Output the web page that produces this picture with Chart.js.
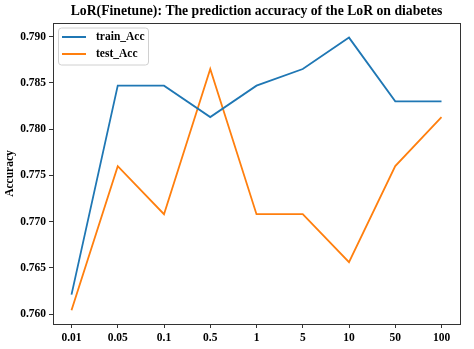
<!DOCTYPE html>
<html>
<head>
<meta charset="utf-8">
<script src="https://cdn.jsdelivr.net/npm/chart.js@4.4.0/dist/chart.umd.min.js"></script>
<style>
  html, body { margin: 0; padding: 0; background: #fff; }
  #wrap { width: 474px; height: 349px; }
</style>
</head>
<body>
<div id="wrap"><canvas id="accChart" width="474" height="349"></canvas></div>
<script>
// ---- data ----
const cValues = ["0.01", "0.05", "0.1", "0.5", "1", "5", "10", "50", "100"];
const trainAcc = [0.7621, 0.7847, 0.7847, 0.7813, 0.7847, 0.7865, 0.7899, 0.7830, 0.7830];
const testAcc  = [0.7604, 0.7760, 0.7708, 0.7865, 0.7708, 0.7708, 0.7656, 0.7760, 0.7813];
const yTicks = [0.760, 0.765, 0.770, 0.775, 0.780, 0.785, 0.790];

const titleText = "LoR(Finetune): The prediction accuracy of the LoR on diabetes";
const serif = "'Liberation Serif', 'Times New Roman', serif";
const BLUE = "#1f77b4", ORANGE = "#ff7f0e";

const toPoints = arr => arr.map((v, i) => ({ x: i, y: v }));

// frame, title, y label and the legend box
const decorations = {
  id: "decorations",
  afterDraw(chart) {
    const { ctx, chartArea: a } = chart;
    ctx.save();
    ctx.strokeStyle = "#333";
    ctx.lineWidth = 1;
    ctx.strokeRect(Math.round(a.left) + 0.5, Math.round(a.top) + 0.5,
                   Math.round(a.right - a.left), Math.round(a.bottom - a.top));

    ctx.fillStyle = "#000";
    ctx.font = "bold 13.7px " + serif;
    ctx.textAlign = "center";
    ctx.textBaseline = "middle";
    ctx.fillText(titleText, (a.left + a.right) / 2, 11);

    ctx.save();
    ctx.translate(10, (a.top + a.bottom) / 2);
    ctx.rotate(-Math.PI / 2);
    ctx.font = "bold 11.5px " + serif;
    ctx.fillText("Accuracy", 0, 0);
    ctx.restore();

    // legend
    const bx = a.left + 5, by = a.top + 4.5, bw = 90, bh = 37;
    ctx.beginPath();
    ctx.roundRect(bx + 0.5, by + 0.5, bw, bh, 3);
    ctx.fillStyle = "rgba(255,255,255,0.8)";
    ctx.fill();
    ctx.strokeStyle = "#d0d0d0";
    ctx.stroke();

    const items = [["train_Acc", BLUE], ["test_Acc", ORANGE]];
    items.forEach(([label, color], i) => {
      const y = by + 9.5 + i * 17;
      ctx.strokeStyle = color;
      ctx.lineWidth = 2;
      ctx.beginPath();
      ctx.moveTo(bx + 4, y);
      ctx.lineTo(bx + 28, y);
      ctx.stroke();
      ctx.fillStyle = "#000";
      ctx.font = "bold 11.5px " + serif;
      ctx.textAlign = "left";
      ctx.fillText(label, bx + 38, y);
    });
    ctx.restore();
  }
};

new Chart(document.getElementById("accChart"), {
  type: "line",
  data: {
    datasets: [
      { label: "train_Acc", data: toPoints(trainAcc), borderColor: BLUE, borderWidth: 1.8, pointRadius: 0, tension: 0 },
      { label: "test_Acc", data: toPoints(testAcc), borderColor: ORANGE, borderWidth: 1.8, pointRadius: 0, tension: 0 }
    ]
  },
  options: {
    responsive: false,
    animation: false,
    layout: { padding: { left: 0, right: 14, top: 23, bottom: 0 } },
    plugins: { legend: { display: false }, title: { display: false }, tooltip: { enabled: false } },
    scales: {
      x: {
        type: "linear",
        min: -0.4,
        max: cValues.length - 1 + 0.4,
        afterBuildTicks: s => { s.ticks = cValues.map((_, i) => ({ value: i })); },
        afterFit: s => { s.height = 25; },
        ticks: {
          callback: v => cValues[v],
          color: "#000",
          font: { family: serif, size: 11.5, weight: "bold" },
          padding: 3,
          maxRotation: 0,
          autoSkip: false
        },
        grid: { drawOnChartArea: false, drawTicks: true, tickLength: 4, color: "#333" },
        border: { display: false }
      },
      y: {
        min: 0.75892,
        max: 0.79148,
        afterBuildTicks: s => { s.ticks = yTicks.map(v => ({ value: v })); },
        afterFit: s => { s.width = 53; },
        ticks: {
          callback: v => v.toFixed(3),
          color: "#000",
          font: { family: serif, size: 11.5, weight: "bold" },
          padding: 3
        },
        grid: { drawOnChartArea: false, drawTicks: true, tickLength: 4, color: "#333" },
        border: { display: false }
      }
    }
  },
  plugins: [decorations]
});
</script>
</body>
</html>
